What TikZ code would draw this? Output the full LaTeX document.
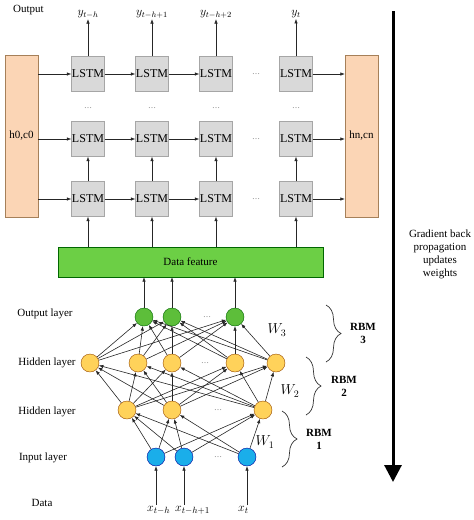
\documentclass[tikz,border=0pt]{standalone}
\usepackage{fontspec}
\setmainfont{Liberation Serif}
\usetikzlibrary{arrows.meta, decorations.pathreplacing}
\usepackage{xcolor}

\definecolor{lstmgray}{HTML}{D9D9D9}
\definecolor{peach}{HTML}{FBD5B5}
\definecolor{featgreen}{HTML}{6CCF45}
\definecolor{nodegreen}{HTML}{5DBE3A}
\definecolor{nodeyellow}{HTML}{FFD25A}
\definecolor{nodeblue}{HTML}{1AAEEA}

\tikzset{
  lstm/.style={draw=black!35, fill=lstmgray, minimum width=33pt, minimum height=35pt,
    inner sep=0pt, font=\fontsize{12}{14}\selectfont},
  state/.style={draw=brown!60!gray, fill=peach, minimum width=33pt, minimum height=162pt,
    inner sep=0pt, font=\fontsize{11}{13}\selectfont},
  unit/.style={circle, minimum size=18pt, inner sep=0pt},
  conn/.style={-{Latex[length=4.5pt,width=3.5pt]}, black!85, line width=0.6pt},
  lbl/.style={font=\fontsize{11}{13}\selectfont},
  dots/.style={font=\fontsize{8}{10}\selectfont, text=black!60},
  rbm/.style={align=center, font=\fontsize{11}{13}\selectfont\bfseries},
  wlbl/.style={font=\fontsize{14}{16}\selectfont},
  brc/.style={decorate, black!80, line width=0.7pt},
}

\begin{document}
\begin{tikzpicture}[x=1pt, y=-1pt]
\useasboundingbox (0,0) rectangle (474,520);

% LSTM part
\node[lbl] at (28.5,10) {Output};
\node[state] (h0) at (21.5,136) {h0,c0};
\node[state] (hn) at (361.5,136) {hn,cn};
\foreach \c/\x in {1/88,2/152,3/216,4/296}
  \foreach \r/\y in {1/74,2/139,3/199}
    \node[lstm] (l\r\c) at (\x,\y) {LSTM};
\foreach \c/\x/\t in {1/88/{t-h},2/152/{t-h+1},3/216/{t-h+2},4/296/t} {
  \node[font=\fontsize{12}{14}\selectfont, inner sep=1pt] (y\c) at (\x,14) {$y_{\t}$};
  \draw[conn] (l1\c) -- (y\c);
  \draw[conn] (l3\c) -- (l2\c);
  \node[dots] at (\x,108) {\dots};
}
\foreach \r in {1,2,3} {
  \draw[conn] (h0.east |- l\r1) -- (l\r1);
  \draw[conn] (l\r1) -- (l\r2);
  \draw[conn] (l\r2) -- (l\r3);
  \draw[conn] (l\r4) -- (hn.west |- l\r4);
}
\foreach \y in {74,139,199}
  \node[dots] at (256,\y) {\dots};

\node[draw=green!40!black, fill=featgreen, minimum width=265pt, minimum height=30pt,
      inner sep=0pt, lbl] (feat) at (190.5,262) {Data feature};
\foreach \c in {1,...,4}
  \draw[conn] (feat.north -| l3\c) -- (l3\c);

% DBN part
\foreach \n/\x in {1/144,2/172,3/235}
  \node[unit, draw=green!40!black, fill=nodegreen] (o\n) at (\x,317) {};
\foreach \n/\x in {1/90,2/138,3/172,4/235,5/276}
  \node[unit, draw=orange!60!black, fill=nodeyellow] (a\n) at (\x,363) {};
\foreach \n/\x in {1/127,2/172,3/263}
  \node[unit, draw=orange!60!black, fill=nodeyellow] (b\n) at (\x,410) {};
\foreach \n/\x in {1/156,2/184,3/247}
  \node[unit, draw=blue!60!black, fill=nodeblue] (i\n) at (\x,457) {};

\node[dots] at (207,317) {\dots};
\node[dots] at (205,363) {\dots};
\node[dots] at (218,410) {\dots};
\node[dots] at (218,457) {\dots};

\foreach \t in {1,2,3} {
  \draw[conn] (o\t) -- (o\t |- feat.south);
  \foreach \s in {1,...,5}
    \draw[conn] (a\s) -- (o\t);
  \foreach \s in {1,2,3}
    \draw[conn] (i\s) -- (b\t);
}
\foreach \t in {1,...,5}
  \foreach \s in {1,2,3}
    \draw[conn] (b\s) -- (a\t);

\foreach \n/\x/\t in {1/156/{t-h},2/184/{t-h+1},3/247/t} {
  \node[font=\fontsize{13}{15}\selectfont, inner sep=1pt, anchor=west] (x\n) at (\x-10,510) {$x_{\t}$};
  \draw[conn] (x\n.north -| i\n) -- (i\n);
}

\node[lbl] at (45,314) {Output layer};
\node[lbl] at (47,363) {Hidden layer};
\node[lbl] at (47,412) {Hidden layer};
\node[lbl] at (43,458) {Input layer};
\node[lbl] at (42,503) {Data};

\node[wlbl] at (277,330) {$W_3$};
\node[wlbl] at (290,391) {$W_2$};
\node[wlbl] at (265,442) {$W_1$};

% RBM braces
\coordinate (r3a) at (326,305); \coordinate (r3b) at (326,362);
\coordinate (r2a) at (306,357); \coordinate (r2b) at (306,415);
\coordinate (r1a) at (282,411); \coordinate (r1b) at (282,467);
\draw[brc, decoration={brace, amplitude=15pt}] (r3a) -- (r3b);
\draw[brc, decoration={brace, amplitude=15pt}] (r2a) -- (r2b);
\draw[brc, decoration={brace, amplitude=15pt}] (r1a) -- (r1b);
\node[rbm] at (363,333) {RBM\\3};
\node[rbm] at (344,386) {RBM\\2};
\node[rbm] at (319,439) {RBM\\1};

% gradient arrow
\coordinate (gtop) at (393,11);
\coordinate (gbot) at (393,482);
\draw[line width=3pt, -{Triangle[length=17pt,width=17pt]}] (gtop) -- (gbot);
\node[lbl, align=center] at (440,254.5) {Gradient back\\propagation\\updates\\weights};
\end{tikzpicture}
\end{document}
